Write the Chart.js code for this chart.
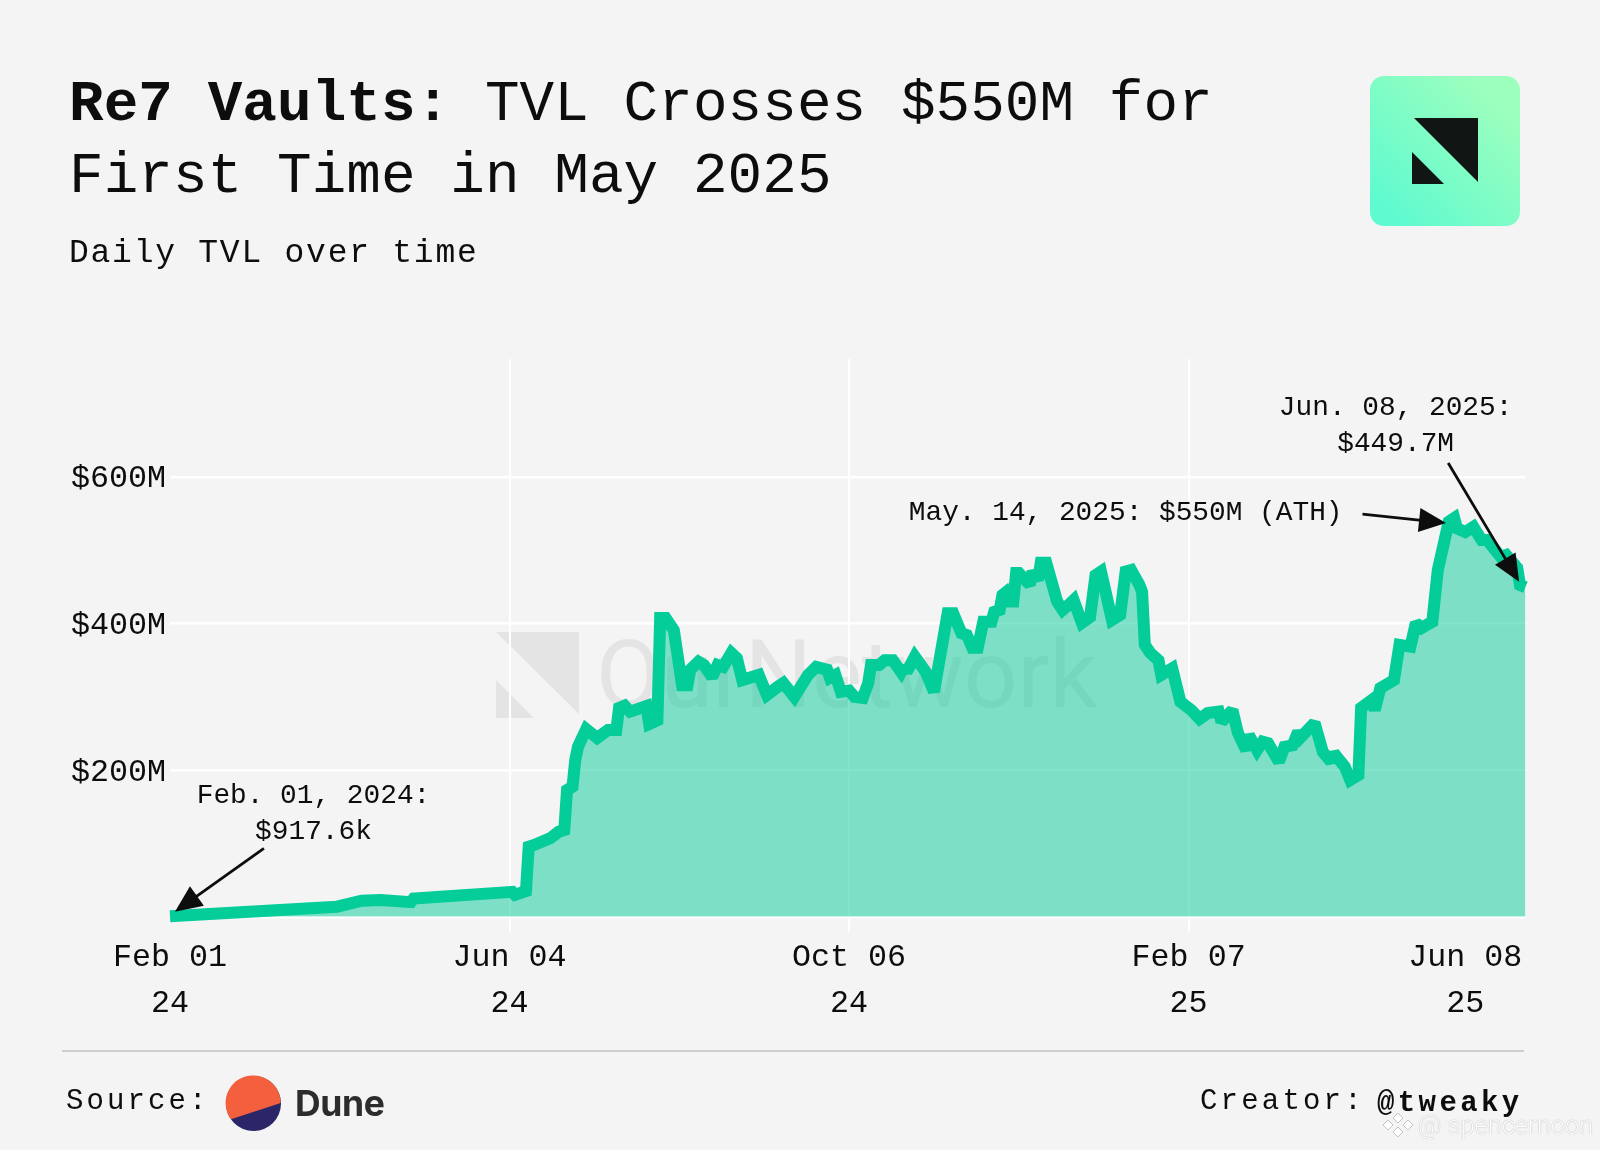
<!DOCTYPE html>
<html>
<head>
<meta charset="utf-8">
<title>Re7 Vaults TVL</title>
<script src="https://cdn.jsdelivr.net/npm/chart.js@4"></script>
<style>
  html, body { margin: 0; padding: 0; background: #f4f4f4; }
  body { position: relative; width: 1600px; height: 1150px; overflow: hidden; font-family: "Liberation Mono", monospace; color: #0d0d0d; }
  .abs { position: absolute; white-space: pre; }
  #chart { position: absolute; left: 0; top: 0; z-index: 2; }
  #title { left: 69px; top: 68.5px; font-size: 57.6px; line-height: 72px; letter-spacing: 0.1px; z-index: 3; }
  #subtitle { left: 69px; top: 234px; font-size: 33px; line-height: 40px; letter-spacing: 1.75px; z-index: 3; }
  #rule { left: 62px; top: 1050px; width: 1462px; height: 2px; background: #cfcfcf; z-index: 3; }
  .foot { font-size: 29px; line-height: 36px; letter-spacing: 3.1px; z-index: 3; }
  #dune { left: 295px; top: 1081px; font-family: Inter, sans-serif; font-weight: 700; font-size: 35.5px; line-height: 46px; color: #2c2c2c; letter-spacing: -0.4px; z-index: 3; }
  #mark { left: 596px; top: 620px; font-family: Roboto, sans-serif; font-size: 94.3px; line-height: 110px; color: #e4e4e4; z-index: 1; }
  #spencer { left: 1418px; top: 1108px; font-family: Roboto, sans-serif; font-weight: 300; font-size: 25.5px; line-height: 34px; color: #fff; text-shadow: 0 0 1px #8f8f8f; z-index: 4; }
  svg { position: absolute; }
</style>
</head>
<body>
<svg style="left:0;top:0;z-index:1" width="1600" height="1150">
  <polygon points="496,632 579,632 579,714" fill="#e4e4e4"/>
  <polygon points="496,680 534,718 496,718" fill="#e4e4e4"/>
</svg>
<div class="abs" id="mark">OurNetwork</div>

<canvas id="chart" width="1600" height="1150"></canvas>

<div class="abs" id="title"><b>Re7 Vaults:</b> TVL Crosses $550M for
First Time in May 2025</div>
<div class="abs" id="subtitle">Daily TVL over time</div>

<svg style="left:0;top:0;z-index:3" width="1600" height="1150">
  <defs>
    <linearGradient id="logoFill" x1="0.1" y1="0.9" x2="0.85" y2="0.15">
      <stop offset="0" stop-color="#5ffad0"/>
      <stop offset="1" stop-color="#9dffbd"/>
    </linearGradient>
  </defs>
  <rect x="1370" y="76" width="150" height="150" rx="14" fill="url(#logoFill)"/>
  <polygon points="1414,118 1478,118 1478,182" fill="#111615"/>
  <polygon points="1412,152 1444,184 1412,184" fill="#111615"/>
  <circle cx="253.5" cy="1103.5" r="27.5" fill="#2b2668"/>
  <path d="M231,1119.3 L280.6,1103 A27.5,27.5 0 1 0 231,1119.3 Z" fill="#f4603e"/>
  <g fill="#fff" stroke="#b5b5b5" stroke-width="0.8">
    <polygon points="1398,1113 1403,1118 1398,1123 1393,1118"/>
    <polygon points="1388,1120 1393,1125 1388,1130 1383,1125"/>
    <polygon points="1408,1120 1413,1125 1408,1130 1403,1125"/>
    <polygon points="1398,1127 1403,1132 1398,1137 1393,1132"/>
  </g>
</svg>

<div class="abs" id="rule"></div>
<div class="abs foot" style="left:66px;top:1084px">Source:</div>
<div class="abs" id="dune">Dune</div>
<div class="abs foot" style="left:1200px;top:1084px;letter-spacing:3.2px">Creator:</div>
<div class="abs foot" style="left:1377px;top:1086px;letter-spacing:3.4px"><b>@tweaky</b></div>
<div class="abs" id="spencer">@ spencernoon</div>

<script>
// x is days since Feb 01 2024, y is TVL in $M
const tvlDays = [0, 61, 70, 77, 88, 89, 125, 126, 130, 131, 133, 139, 142, 144, 145, 147, 148, 149, 152, 156, 160, 163, 164, 166, 168, 174, 175, 178, 179, 181, 184, 187, 189, 190, 193, 195, 198, 200, 202, 205, 207, 209, 215, 218, 222, 224, 228, 233, 236, 240, 241, 243, 245, 248, 250, 253, 255, 256, 259, 261, 264, 267, 268, 269, 272, 276, 279, 284, 286, 289, 291, 293, 295, 297, 300, 301, 303, 304, 305, 306, 308, 309, 310, 314, 315, 317, 318, 320, 324, 326, 328, 330, 333, 336, 338, 340, 344, 347, 349, 351, 354, 355, 356, 358, 361, 362, 366, 369, 373, 376, 379, 383, 384, 388, 390, 393, 394, 397, 399, 401, 405, 407, 410, 412, 413, 418, 421, 424, 425, 427, 429, 431, 434, 435, 439, 440, 442, 447, 449, 453, 455, 457, 461, 463, 467, 469, 470, 473, 476, 479, 481, 486, 488, 492, 493, 495];
const tvlValues = [0.9, 13.8, 22, 23, 20, 25, 34, 30, 35, 95.6, 98, 107.5, 116, 118.4, 173, 177.5, 214, 232, 256, 244, 255, 255, 285, 288, 280, 287.6, 263, 268, 407.6, 407.6, 391, 316, 316, 337, 348, 343.5, 327, 343.5, 341, 360, 353, 323, 330, 302.6, 314, 319, 300, 330, 341, 337, 326, 330, 307, 308.5, 300, 298.5, 319, 343.5, 343.5, 350, 350, 334, 341, 334, 355, 334, 307, 414, 414, 387, 384.5, 367, 367, 402.6, 402.6, 416, 418.6, 439, 442, 430, 430, 469, 469, 453, 471, 459.5, 483, 483, 430, 418.6, 425, 432, 401, 409, 466, 471, 405, 412, 471, 473, 453, 443.5, 371, 360, 350, 330, 339, 293.5, 282, 270, 278, 280, 266, 282, 251, 227.5, 248, 227.5, 239, 237, 211.6, 232, 234, 252.5, 245, 264.5, 225, 211.6, 223.5, 214, 205, 186.6, 193.5, 285, 296, 282, 312, 323, 371, 368.5, 401, 394, 402.6, 473, 539, 544, 530, 525, 532, 514, 514, 491, 493.6, 476, 452.7, 449.7];

const yTicks = [0, 200, 400, 600];
// the last label sits inward of the series end, as in the original
const xTickDays = [0, 124, 248, 372, 473];
const xTickLabels = [['Feb 01', '24'], ['Jun 04', '24'], ['Oct 06', '24'], ['Feb 07', '25'], ['Jun 08', '25']];

const noteLabels = [['Feb. 01, 2024:', '$917.6k'], ['May. 14, 2025: $550M (ATH)'], ['Jun. 08, 2025:', '$449.7M']];
const noteAnchors = [[52.4, 165], [349, 551], [447.6, 695]];
const noteArrowTails = [[34.3, 93.5], [435.5, 549.5], [466.8, 619]];
const noteArrowTips = [[1.8, 7], [466, 537.4], [492.7, 457]];

const notesPlugin = {
    id: 'notes',
    beforeDatasetsDraw(chart) {
        // keeps the sharpest corners of the thick line from spiking
        chart.ctx.miterLimit = 2;
    },
    afterDatasetsDraw(chart) {
        const { ctx, scales: { x, y } } = chart;
        ctx.save();
        ctx.fillStyle = '#0d0d0d';
        ctx.strokeStyle = '#0d0d0d';
        ctx.font = '27.8px "Liberation Mono"';
        ctx.textAlign = 'center';
        ctx.textBaseline = 'middle';
        noteLabels.forEach((lines, i) => {
            const px = x.getPixelForValue(noteAnchors[i][0]);
            const py = y.getPixelForValue(noteAnchors[i][1]);
            lines.forEach((line, j) => ctx.fillText(line, px, py + j * 36));
        });
        noteArrowTips.forEach((tip, i) => {
            const tx = x.getPixelForValue(tip[0]);
            const ty = y.getPixelForValue(tip[1]);
            const fx = x.getPixelForValue(noteArrowTails[i][0]);
            const fy = y.getPixelForValue(noteArrowTails[i][1]);
            const a = Math.atan2(ty - fy, tx - fx);
            ctx.lineWidth = 2.8;
            ctx.beginPath();
            ctx.moveTo(fx, fy);
            ctx.lineTo(tx - 20 * Math.cos(a), ty - 20 * Math.sin(a));
            ctx.stroke();
            ctx.beginPath();
            ctx.moveTo(tx, ty);
            ctx.lineTo(tx - 27 * Math.cos(a) + 12 * Math.sin(a), ty - 27 * Math.sin(a) - 12 * Math.cos(a));
            ctx.lineTo(tx - 27 * Math.cos(a) - 12 * Math.sin(a), ty - 27 * Math.sin(a) + 12 * Math.cos(a));
            ctx.closePath();
            ctx.fill();
        });
        ctx.restore();
    }
};

const monoFont = { family: '"Liberation Mono"', size: 31.7, lineHeight: 1.45 };

new Chart(document.getElementById('chart'), {
    type: 'line',
    data: {
        datasets: [{
            data: tvlDays.map((d, i) => ({ x: d, y: tvlValues[i] })),
            borderColor: '#05cd99',
            backgroundColor: 'rgba(6, 204, 152, 0.5)',
            borderWidth: 12,
            borderJoinStyle: 'miter',
            borderCapStyle: 'butt',
            pointRadius: 0,
            tension: 0,
            fill: 'origin',
            clip: false
        }]
    },
    options: {
        responsive: false,
        animation: false,
        layout: { padding: { top: 359, right: 74.3, left: 0, bottom: 0 } },
        plugins: { legend: { display: false }, tooltip: { enabled: false } },
        scales: {
            x: {
                type: 'linear',
                min: 0,
                max: 495.1,
                afterBuildTicks: scale => { scale.ticks = xTickDays.map(v => ({ value: v })); },
                afterFit: scale => { scale.height = 233.2; },
                border: { display: false },
                grid: {
                    // only the three inner dates get a line
                    color: ctx => (ctx.index === 0 || ctx.index === 4 ? 'transparent' : '#ffffff'),
                    lineWidth: 2,
                    tickLength: 15
                },
                ticks: {
                    autoSkip: false,
                    maxRotation: 0,
                    padding: 3,
                    color: '#0d0d0d',
                    font: monoFont,
                    callback: (v, i) => xTickLabels[i]
                }
            },
            y: {
                min: 0,
                max: 761,
                afterBuildTicks: scale => { scale.ticks = yTicks.map(v => ({ value: v })); },
                afterFit: scale => { scale.width = 170; },
                border: { display: false },
                grid: { color: '#ffffff', lineWidth: 2.5, drawTicks: false, tickLength: 0 },
                ticks: {
                    padding: 4,
                    labelOffset: 2,
                    color: '#0d0d0d',
                    font: monoFont,
                    callback: v => (v === 0 ? '' : '$' + v + 'M')
                }
            }
        }
    },
    plugins: [notesPlugin]
});
</script>
</body>
</html>
